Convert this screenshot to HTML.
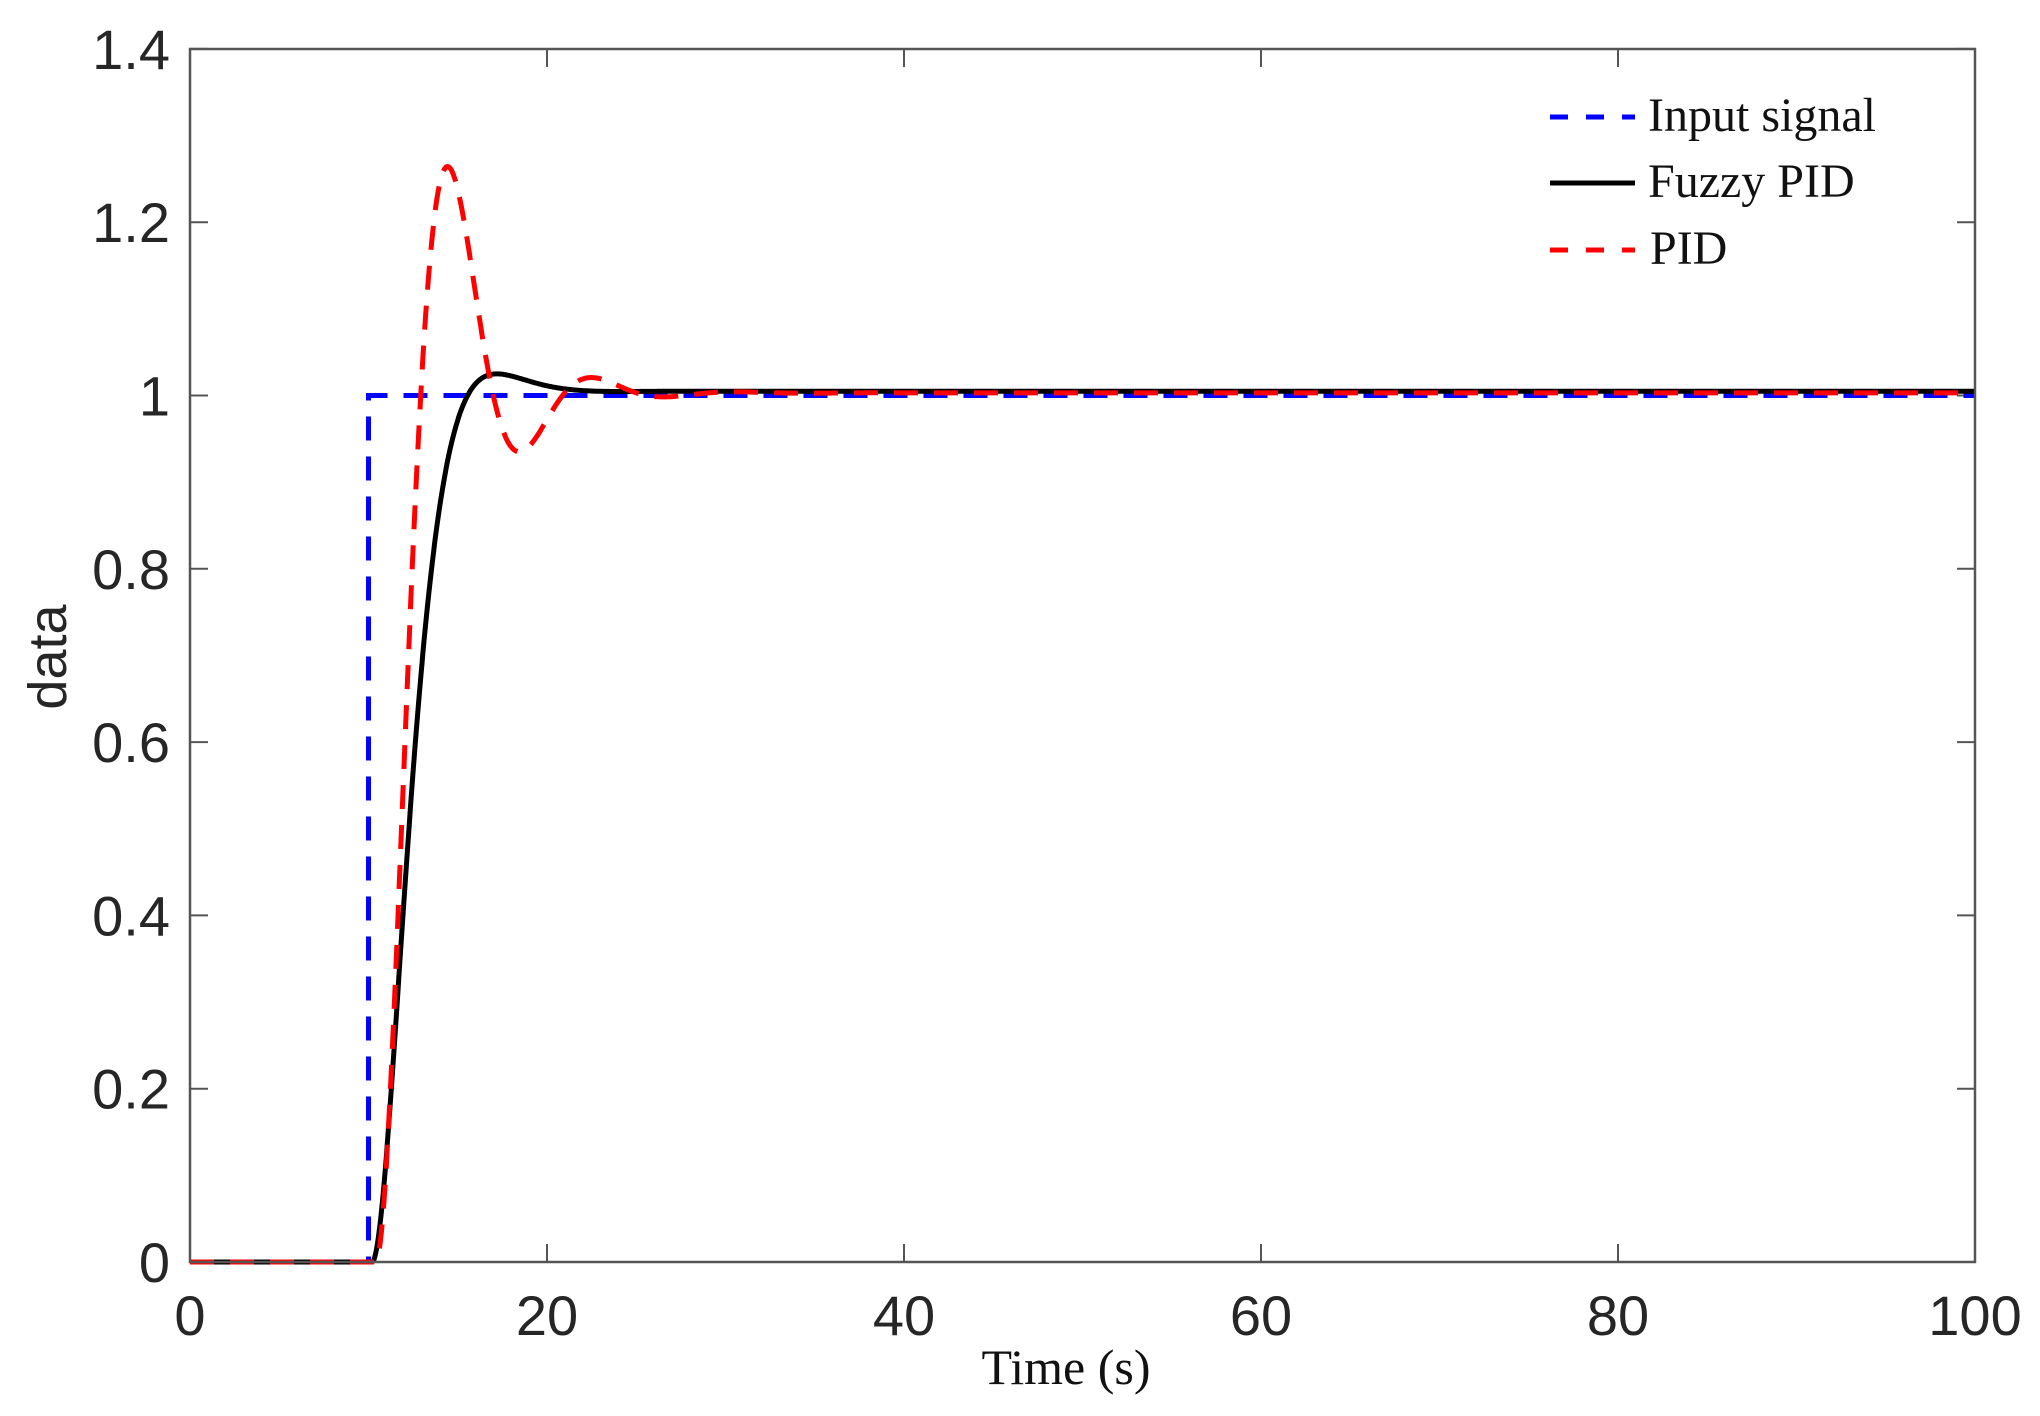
<!DOCTYPE html>
<html><head><meta charset="utf-8"><style>
html,body{margin:0;padding:0;background:#fff;}
svg{display:block;}
</style></head><body>
<svg id="s" width="2040" height="1416" xmlns="http://www.w3.org/2000/svg">
<rect width="2040" height="1416" fill="#fff"/>
<g id="grid"></g>
<path id="blue" fill="none" stroke="#0000ff" stroke-width="5" stroke-dasharray="24,16"/>
<path id="black" fill="none" stroke="#000" stroke-width="5"/>
<path id="red" fill="none" stroke="#ff0000" stroke-width="5" stroke-dasharray="24,16"/>
<rect x="190" y="49" width="1785" height="1213" fill="none" stroke="#555" stroke-width="2.5"/>
<g font-family="Liberation Sans, Arial, sans-serif" font-size="56" fill="#262626" text-anchor="end" id="yl"></g>
<g font-family="Liberation Sans, Arial, sans-serif" font-size="56" fill="#262626" text-anchor="middle" id="xl"></g>
<text x="66" y="657" font-family="Liberation Sans, Arial, sans-serif" font-size="54" fill="#262626" text-anchor="middle" transform="rotate(-90 66 657)">data</text>
<text x="1066" y="1384" font-family="Liberation Serif, serif" font-size="50" fill="#111" text-anchor="middle">Time  (s)</text>
<g font-family="Liberation Serif, serif" font-size="48" fill="#111">
<line x1="1550" y1="117" x2="1635" y2="117" stroke="#0000ff" stroke-width="5" stroke-dasharray="18,18"/>
<text x="1648" y="131">Input signal</text>
<line x1="1550" y1="183" x2="1635" y2="183" stroke="#000" stroke-width="5"/>
<text x="1648" y="197">Fuzzy PID</text>
<line x1="1550" y1="250" x2="1635" y2="250" stroke="#ff0000" stroke-width="5" stroke-dasharray="18,18"/>
<text x="1650" y="264">PID</text>
</g>
</svg>
<script>
const X=t=>190+17.85*t, Y=v=>1262-866.5*v;
const ns="http://www.w3.org/2000/svg";
function el(p,tag,a,txt){const e=document.createElementNS(ns,tag);for(const k in a)e.setAttribute(k,a[k]);if(txt!==undefined)e.textContent=txt;document.getElementById(p).appendChild(e);}
for(let i=0;i<=7;i++){const v=i*0.2,y=Y(v);
 el('grid','line',{x1:190,y1:y,x2:208,y2:y,stroke:'#555','stroke-width':2});
 el('grid','line',{x1:1975,y1:y,x2:1957,y2:y,stroke:'#555','stroke-width':2});
 el('yl','text',{x:170,y:y+20},i==0?'0':i==5?'1':v.toFixed(1));}
for(let i=0;i<=5;i++){const x=X(i*20);
 el('grid','line',{x1:x,y1:1262,x2:x,y2:1244,stroke:'#555','stroke-width':2});
 el('grid','line',{x1:x,y1:49,x2:x,y2:67,stroke:'#555','stroke-width':2});
 el('xl','text',{x:x,y:1335},String(i*20));}
function so(t,t0,s,w,fin){if(t<=t0)return 0;const u=t-t0;return fin*(1-Math.exp(-s*u)*(Math.cos(w*u)+s/w*Math.sin(w*u)));}
let pb='',pr='';
for(let t=0;t<=100;t+=0.05){
 const f=so(t,10.2,0.56,0.449,1.005), r=so(t,10.4,0.334,0.78,1.003);
 pb+=(t?'L':'M')+X(t).toFixed(1)+','+Y(f).toFixed(1);
 pr+=(t?'L':'M')+X(t).toFixed(1)+','+Y(r).toFixed(1);}
document.getElementById('black').setAttribute('d',pb);
document.getElementById('red').setAttribute('d',pr);
document.getElementById('blue').setAttribute('d',`M${X(0)},${Y(0)}L${X(10)},${Y(0)}L${X(10)},${Y(1)}L${X(100)},${Y(1)}`);
</script>
</body></html>
